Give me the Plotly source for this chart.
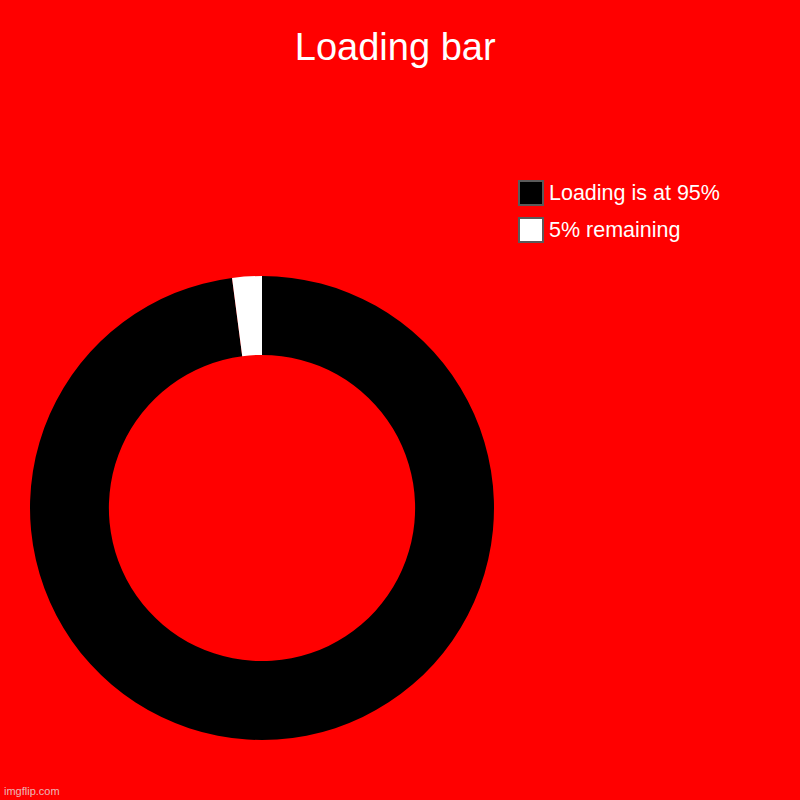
import plotly.graph_objects as go

labels = ["Loading is at 95%", "5% remaining"]
values = [95, 2]
colors = ["#000000", "#ffffff"]

W = H = 800
bg = "#ff0000"
font = "Liberation Sans, Arial, sans-serif"

def px(x):
    return x / W

def py(y):
    return 1 - y / H

fig = go.Figure()
fig.add_trace(go.Pie(
    labels=labels,
    values=values,
    marker=dict(colors=colors, line=dict(width=0)),
    hole=0.66,
    sort=False,
    direction="clockwise",
    rotation=0,
    textinfo="none",
    hoverinfo="label+value",
    showlegend=False,
    domain=dict(x=[px(30), px(494)], y=[py(740), py(276)]),
))

# legend drawn by hand so the swatches match the reference size
shapes = []
annotations = []
for i, (lab, col) in enumerate(zip(labels, colors)):
    yc = 193 + i * 37
    shapes.append(dict(
        type="rect", xref="paper", yref="paper",
        x0=px(519), x1=px(543), y0=py(yc + 12), y1=py(yc - 12),
        fillcolor=col, line=dict(color="#5a5a5a", width=2),
    ))
    annotations.append(dict(
        text=lab, xref="paper", yref="paper",
        x=px(547), y=py(yc), xanchor="left", yanchor="middle",
        showarrow=False, font=dict(family=font, size=21.5, color="white"),
    ))

annotations.append(dict(
    text="imgflip.com", xref="paper", yref="paper",
    x=px(2), y=py(791), xanchor="left", yanchor="middle",
    showarrow=False, font=dict(family=font, size=11, color="rgba(230,230,230,0.8)"),
))

fig.update_layout(
    width=W, height=H,
    margin=dict(l=0, r=0, t=0, b=0),
    paper_bgcolor=bg,
    plot_bgcolor=bg,
    title=dict(text="Loading bar", x=0.494, xanchor="center",
               y=py(47), yanchor="middle",
               font=dict(family=font, size=38, color="white")),
    shapes=shapes,
    annotations=annotations,
    showlegend=False,
)

# drop the browser's default page margin so the chart fills the window
fig.write_html("out.html", config={"displayModeBar": False},
               post_script="document.body.style.margin='0';")
